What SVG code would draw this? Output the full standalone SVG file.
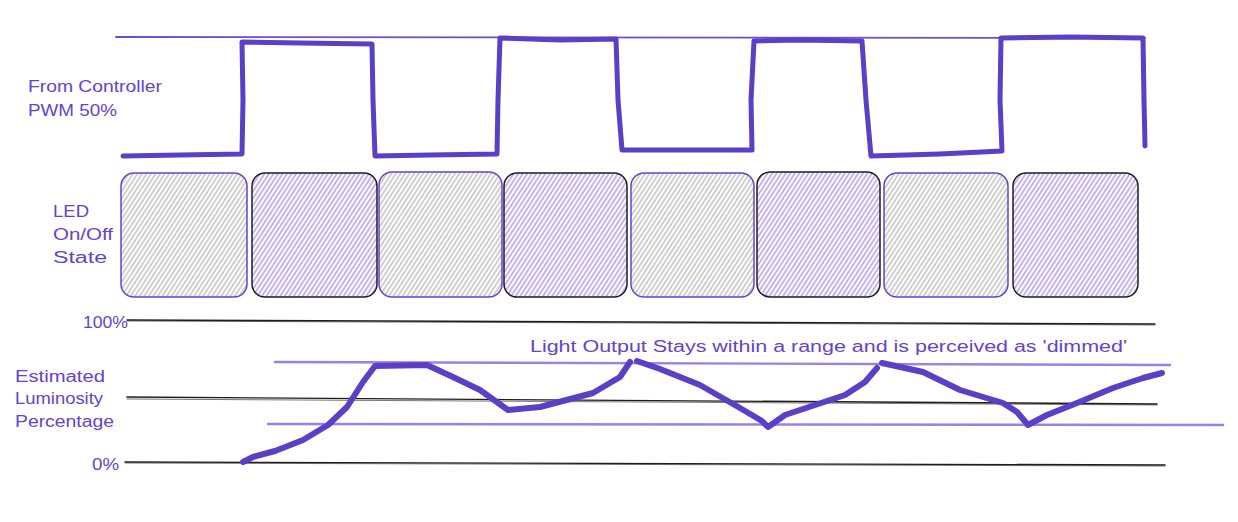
<svg xmlns="http://www.w3.org/2000/svg" width="1238" height="522" viewBox="0 0 1238 522">
<defs>
<pattern id="hGray" patternUnits="userSpaceOnUse" width="3.8" height="10" patternTransform="rotate(33)">
<line x1="1" y1="0" x2="1" y2="10" stroke="#a2a2a2" stroke-width="1"/>
</pattern>
<pattern id="hPurp" patternUnits="userSpaceOnUse" width="3.8" height="10" patternTransform="rotate(33)">
<line x1="1" y1="0" x2="1" y2="10" stroke="#9479f0" stroke-width="1.1"/>
</pattern>
</defs>
<style>
.lbl{font-family:"Liberation Sans",Arial,sans-serif;font-size:16px;fill:#6243d3;}
.wave{fill:none;stroke:#5b3fc6;stroke-width:5;stroke-linejoin:round;stroke-linecap:round;}
.ref{fill:none;stroke:#6a4fd4;stroke-width:1.8;stroke-linecap:round;}
.refl{fill:none;stroke:#8d73e6;stroke-width:2.4;stroke-linecap:round;opacity:0.9;}
.axis{fill:none;stroke:#1e1e1e;stroke-width:1.4;stroke-linecap:round;}
.axis2{fill:none;stroke:#777;stroke-width:1;stroke-linecap:round;}
.off{fill:url(#hGray);stroke:#6741d9;stroke-width:1.5;}
.on{fill:url(#hPurp);stroke:#1e1e1e;stroke-width:1.5;}
</style>
<rect width="1238" height="522" fill="#ffffff"/>

<g id="labels">
<text class="lbl" x="28" y="92" textLength="134" lengthAdjust="spacingAndGlyphs">From Controller</text>
<text class="lbl" x="28" y="116" textLength="89" lengthAdjust="spacingAndGlyphs">PWM 50%</text>
<text class="lbl" x="53" y="217" textLength="36" lengthAdjust="spacingAndGlyphs">LED</text>
<text class="lbl" x="53" y="240" textLength="60" lengthAdjust="spacingAndGlyphs">On/Off</text>
<text class="lbl" x="53" y="263" textLength="54" lengthAdjust="spacingAndGlyphs">State</text>
<text class="lbl" x="83" y="328" textLength="45" lengthAdjust="spacingAndGlyphs">100%</text>
<text class="lbl" x="15" y="382" textLength="90" lengthAdjust="spacingAndGlyphs">Estimated</text>
<text class="lbl" x="15" y="404" textLength="88" lengthAdjust="spacingAndGlyphs">Luminosity</text>
<text class="lbl" x="15" y="427" textLength="99" lengthAdjust="spacingAndGlyphs">Percentage</text>
<text class="lbl" x="92" y="470" textLength="27" lengthAdjust="spacingAndGlyphs">0%</text>
<text class="lbl" x="530" y="352" textLength="597" lengthAdjust="spacingAndGlyphs">Light Output Stays within a range and is perceived as 'dimmed'</text>
</g>

<g id="pwm-signal">
<path class="ref" d="M116,37 L1145,38"/>
<path class="wave" d="M123,156 L180,155 L242,154 L243,100 L242,42 L300,43 L372,44 L373,100 L375,156 L430,155 L497,154 L498,100 L500,38 L560,40 L616,39 L618,100 L622,150 L690,150 L752,150 L751,100 L754,41 L800,40 L862,41 L866,100 L871,156 L940,154 L1002,151 L1000,100 L1001,38 L1070,37 L1143,38 L1144,100 L1145,146"/>
</g>

<g id="led-states">
<rect id="led1" class="off" x="121" y="173" width="126" height="124" rx="13"/>
<rect id="led2" class="on" x="252" y="173" width="125" height="124" rx="13"/>
<rect id="led3" class="off" x="379" y="172" width="123" height="125" rx="13"/>
<rect id="led4" class="on" x="504" y="173" width="123" height="124" rx="13"/>
<rect id="led5" class="off" x="631" y="173" width="123" height="124" rx="13"/>
<rect id="led6" class="on" x="757" y="172" width="123" height="125" rx="13"/>
<rect id="led7" class="off" x="884" y="173" width="124" height="124" rx="13"/>
<rect id="led8" class="on" x="1013" y="173" width="125" height="124" rx="13"/>
</g>

<g id="luminosity-axes">
<path class="axis2" d="M127,321 L1155,325"/>
<path class="axis" d="M127,320 L1155,324"/>
<path class="axis2" d="M127,399 L1157,405"/>
<path class="axis" d="M127,397 L1157,404"/>
<path class="axis2" d="M125,463 L1165,466"/>
<path class="axis" d="M125,462 L1165,465"/>
<path class="refl" d="M275,362 L1170,365"/>
<path class="refl" d="M268,424 L1223,425"/>
</g>

<g id="luminosity-curve">
<path class="wave" style="stroke-width:6" d="M243,462 L253,457 L275,451 L303,440 L328,425 L347,407 L363,382 L375,366 L427,365 L453,377 L480,390 L508,410 L540,407 L593,393 L620,377 L630,362"/>
<path class="wave" style="stroke-width:6" d="M637,361 L660,369 L700,385 L740,408 L762,421 L768,427 L785,415 L815,405 L845,395 L865,382 L877,368"/>
<path class="wave" style="stroke-width:6" d="M882,363 L923,372 L960,390 L1003,403 L1017,412 L1028,425 L1047,415 L1077,403 L1113,388 L1143,378 L1162,373"/>
</g>
</svg>
